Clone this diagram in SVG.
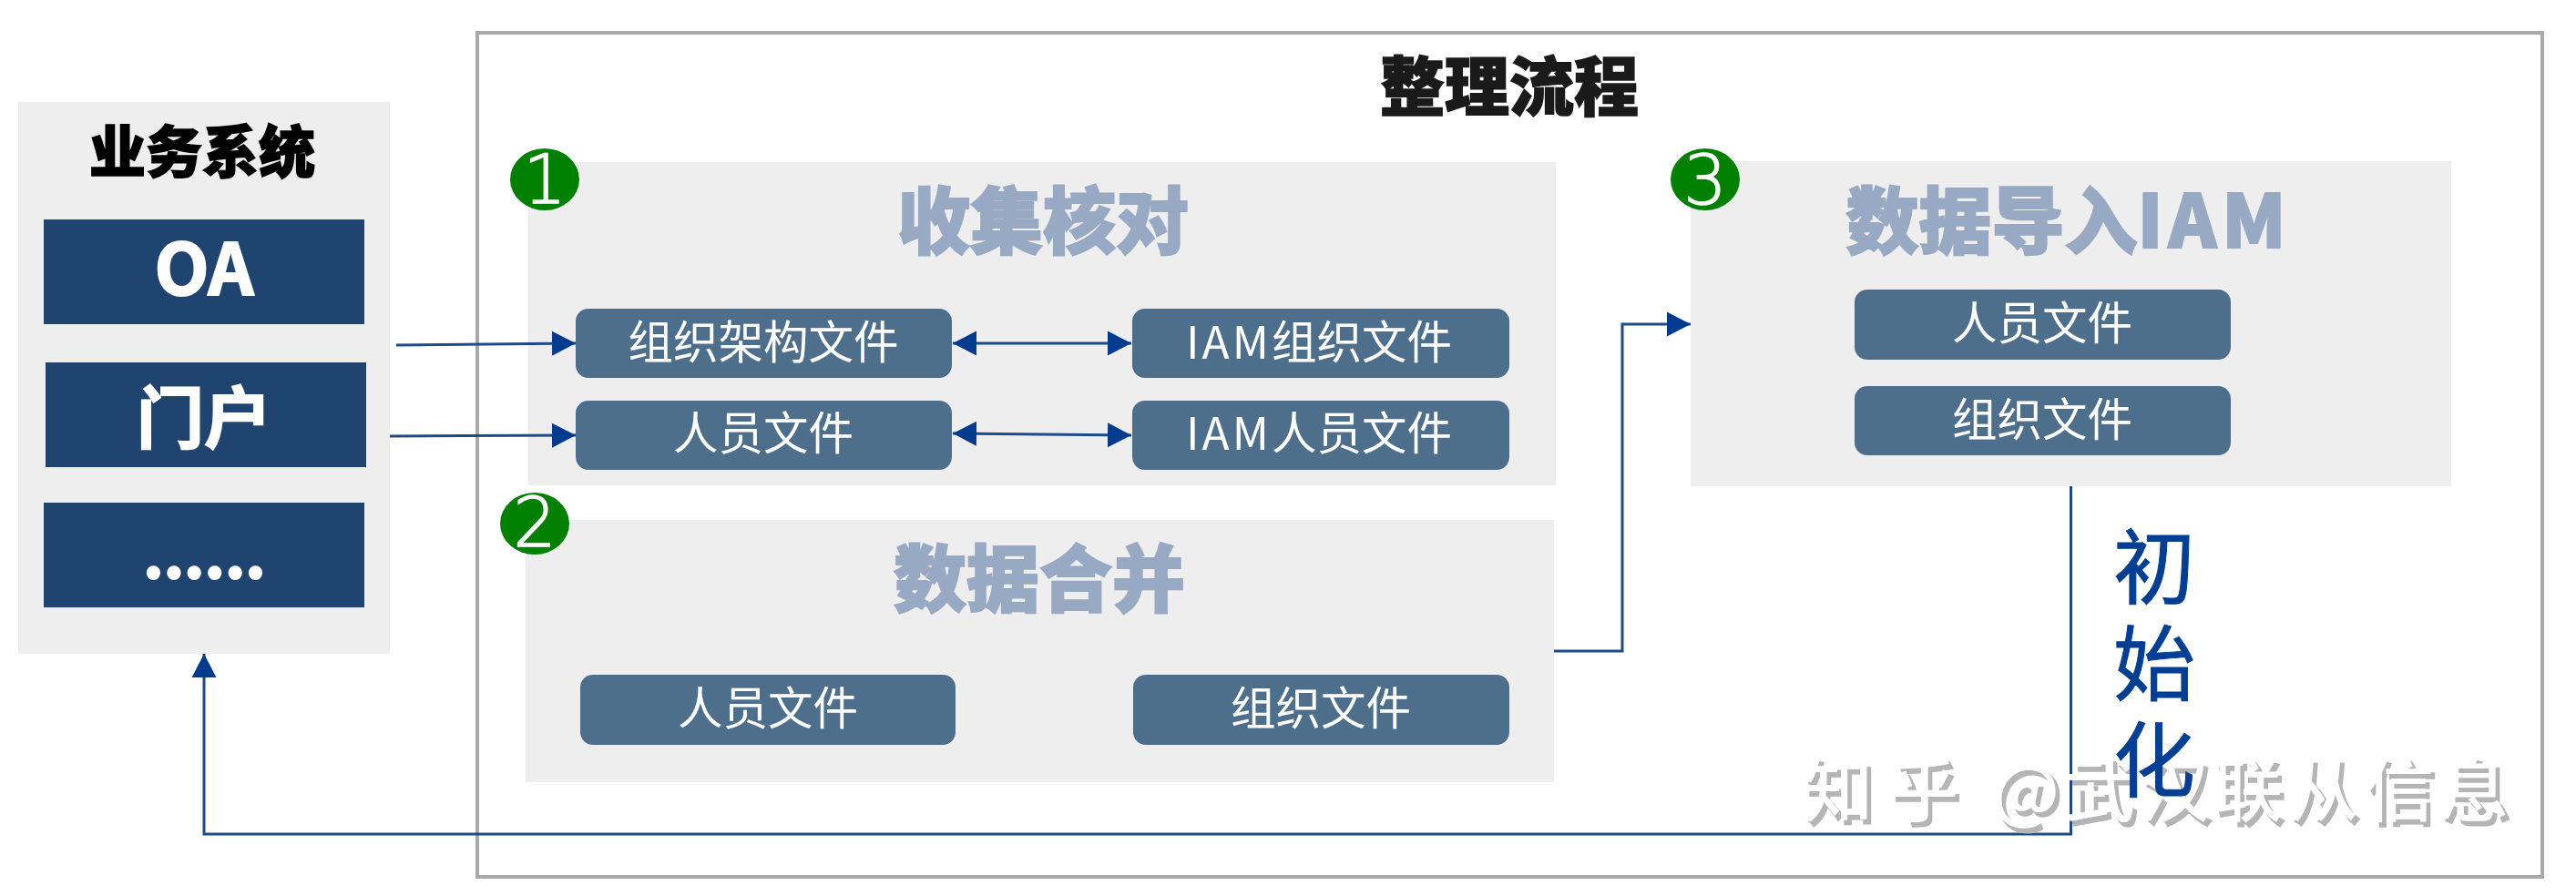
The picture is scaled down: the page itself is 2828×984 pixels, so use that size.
<svg xmlns="http://www.w3.org/2000/svg" width="2828" height="984" viewBox="0 0 2828 984">
<style>
text{font-family:"Noto Sans CJK SC","Noto Sans",sans-serif;text-anchor:middle}
.panel{fill:#eeeeee}
.sys{fill:#1f4470}
.sysT{fill:#fff;font-weight:700;stroke:#fff;stroke-width:2}
.node{fill:#4d6f8c}
.nodeT{fill:#fff;font-size:49.5px;font-weight:400}
.sec{fill:#98aac3;stroke:#98aac3;stroke-width:2;font-size:80px;font-weight:900}
.badge{fill:#008000}
.num{fill:#fff;stroke:#fff;stroke-width:1.5;font-family:"DejaVu Sans",sans-serif;font-size:74px;font-weight:200}
.conn{fill:none;stroke:#1c4a8a;stroke-width:3}
.wm{font-size:76px;font-weight:500;text-anchor:start}
.iam{letter-spacing:3px}
</style>
<defs>
<marker id="arrow" markerUnits="userSpaceOnUse" markerWidth="27" markerHeight="28" refX="26" refY="14" orient="auto-start-reverse"><path d="M0 0.5L26 14L0 27.5Z" fill="#003b8e"/></marker>
</defs>
<rect width="2828" height="984" fill="#fff"/>
<rect id="outer" x="524" y="36" width="2267" height="927" fill="#fff" stroke="#a9a9a9" stroke-width="4"/>
<text x="1657" y="121" font-size="71" font-weight="900" fill="#1a1a1a" stroke="#1a1a1a" stroke-width="1.5">整理流程</text>
<g id="business">
<rect class="panel" x="20" y="112" width="408" height="606"/>
<text x="222" y="190" font-size="62" font-weight="900" fill="#000" stroke="#000" stroke-width="1.5">业务系统</text>
</g>
<g id="oa"><rect class="sys" x="48" y="241" width="352" height="115"/><text class="sysT" x="224" y="324" font-size="78">OA</text></g>
<g id="portal"><rect class="sys" x="50" y="398" width="352" height="115"/><text class="sysT" x="224" y="486" font-size="74">门户</text></g>
<g id="more"><rect class="sys" x="48" y="552" width="352" height="115"/><text class="sysT" x="224" y="635" font-size="72" letter-spacing="-1">......</text></g>
<g id="collect">
<rect class="panel" x="580" y="178" width="1128" height="355"/>
<text class="sec" x="1145" y="272">收集核对</text>
</g>
<g id="n-org"><rect class="node" x="632" y="339" width="413" height="76" rx="14"/><text class="nodeT" x="838" y="394">组织架构文件</text></g>
<g id="n-iam-org"><rect class="node" x="1243" y="339" width="414" height="76" rx="14"/><text class="nodeT" x="1448" y="394"><tspan class="iam">IAM</tspan>组织文件</text></g>
<g id="n-person"><rect class="node" x="632" y="440" width="413" height="76" rx="14"/><text class="nodeT" x="838" y="494">人员文件</text></g>
<g id="n-iam-person"><rect class="node" x="1243" y="440" width="414" height="76" rx="14"/><text class="nodeT" x="1448" y="494"><tspan class="iam">IAM</tspan>人员文件</text></g>
<g id="merge">
<rect class="panel" x="577" y="571" width="1129" height="288"/>
<text class="sec" x="1141" y="665">数据合并</text>
</g>
<g id="m-person"><rect class="node" x="637" y="741" width="412" height="77" rx="14"/><text class="nodeT" x="843" y="796">人员文件</text></g>
<g id="m-org"><rect class="node" x="1244" y="741" width="413" height="77" rx="14"/><text class="nodeT" x="1450" y="796">组织文件</text></g>
<g id="import">
<rect class="panel" x="1856" y="177" width="835" height="357"/>
<text class="sec" x="2271" y="272">数据导入<tspan letter-spacing="6">IAM</tspan></text>
</g>
<g id="i-person"><rect class="node" x="2036" y="318" width="413" height="77" rx="14"/><text class="nodeT" x="2242" y="373">人员文件</text></g>
<g id="i-org"><rect class="node" x="2036" y="424" width="413" height="76" rx="14"/><text class="nodeT" x="2242" y="479">组织文件</text></g>
<g id="badge1"><ellipse class="badge" cx="598" cy="197" rx="38" ry="34"/><text class="num" x="598" y="223">1</text></g>
<g id="badge2"><ellipse class="badge" cx="587" cy="575" rx="38" ry="34"/><text class="num" x="587" y="600">2</text></g>
<g id="badge3"><ellipse class="badge" cx="1872" cy="197" rx="38" ry="34"/><text class="num" x="1872" y="224">3</text></g>
<g id="connectors">
<path class="conn" d="M435 379L632 377" marker-end="url(#arrow)"/>
<path class="conn" d="M428 479L632 478" marker-end="url(#arrow)"/>
<path class="conn" d="M1046 377L1242 377" marker-start="url(#arrow)" marker-end="url(#arrow)"/>
<path class="conn" d="M1046 476L1242 478" marker-start="url(#arrow)" marker-end="url(#arrow)"/>
<path class="conn" d="M1706 715H1781V356H1856" marker-end="url(#arrow)"/>
<path class="conn" d="M2273.5 534V916H224V718" marker-end="url(#arrow)"/>
</g>
<g id="watermark">
<text class="wm" fill="#b5b5b5" stroke="#b5b5b5" stroke-width="1.5" x="1984 2078 2160 2191 2272 2354 2434 2517 2600 2682" y="901">知乎 @武汉联从信息</text>
<text class="wm" fill="#fff" x="1980 2074 2156 2187 2268 2350 2430 2513 2596 2678" y="896">知乎 @武汉联从信息</text>
</g>
<text id="init-label" font-size="90" fill="#003f94" stroke="#003f94" stroke-width="1"><tspan x="2365" y="656">初</tspan><tspan x="2365" y="762">始</tspan><tspan x="2365" y="868">化</tspan></text>
</svg>
